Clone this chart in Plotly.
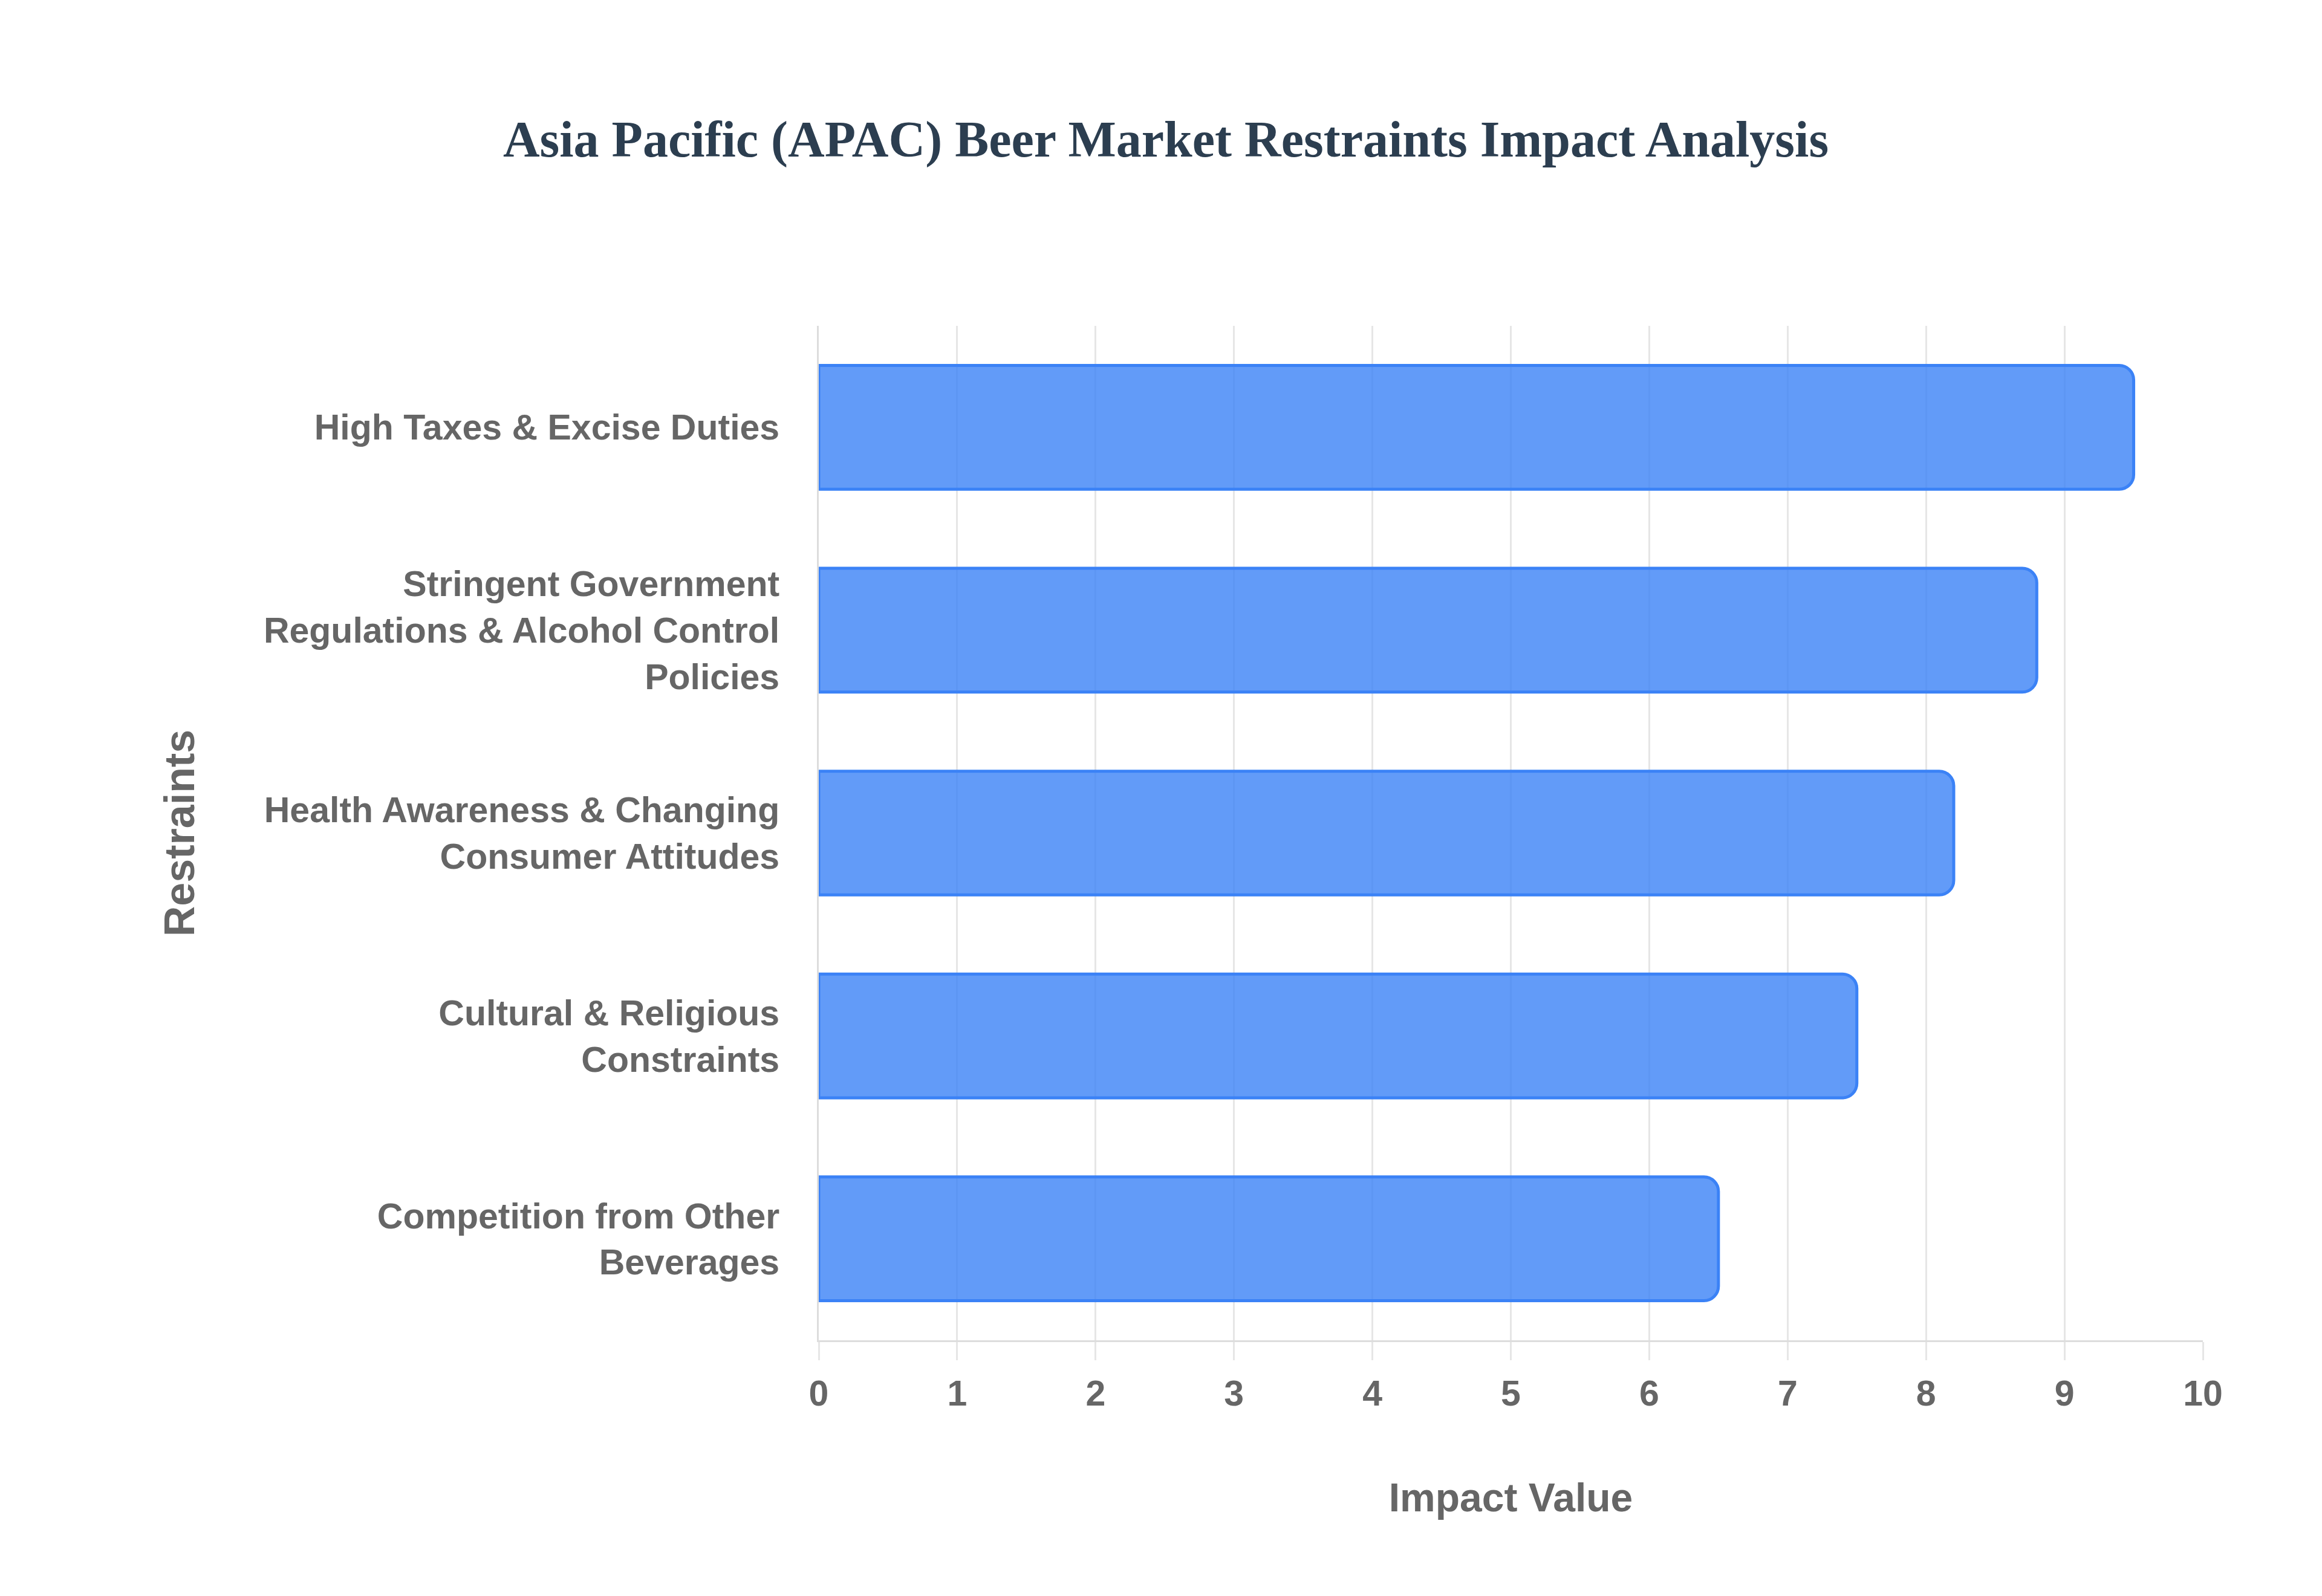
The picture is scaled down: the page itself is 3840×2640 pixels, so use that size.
import plotly.graph_objects as go

# restraint categories, listed top to bottom as in the chart
restraints = [
    "High Taxes & Excise Duties",
    "Stringent Government<br>Regulations & Alcohol Control<br>Policies",
    "Health Awareness & Changing<br>Consumer Attitudes",
    "Cultural & Religious<br>Constraints",
    "Competition from Other<br>Beverages",
]
impact_values = [9.5, 8.8, 8.2, 7.5, 6.5]
x_ticks = [0, 1, 2, 3, 4, 5, 6, 7, 8, 9, 10]

grid_col = "#e6e6e6"
label_col = "#666666"

fig = go.Figure()
fig.add_trace(go.Bar(
    x=impact_values,
    y=restraints,
    orientation="h",
    marker=dict(
        color="rgba(59,130,246,0.8)",
        line=dict(color="rgb(59,130,246)", width=5),
        cornerradius=24,
    ),
    hoverinfo="x+y",
))

fig.update_layout(
    width=3840,
    height=2640,
    paper_bgcolor="white",
    plot_bgcolor="white",
    margin=dict(l=1346, r=205, t=531, b=431),
    bargap=0.39,
    showlegend=False,
    title=dict(
        text="Asia Pacific (APAC) Beer Market Restraints Impact Analysis",
        x=0.5,
        xanchor="center",
        y=1 - 222 / 2640,
        yanchor="middle",
        font=dict(family="Liberation Serif", size=84, color="#2c3e50", weight="bold"),
    ),
)

fig.update_xaxes(
    range=[0, 10],
    tickvals=x_ticks,
    showgrid=True,
    gridcolor=grid_col,
    gridwidth=2.5,
    zeroline=False,
    showline=True,
    linecolor="#dddddd",
    linewidth=3,
    ticks="outside",
    ticklen=30,
    tickwidth=2.5,
    tickcolor=grid_col,
    ticklabelstandoff=4,
    tickfont=dict(family="Liberation Sans", size=59, color=label_col, weight="bold"),
    title=dict(
        text="Impact Value",
        standoff=118,
        font=dict(family="Liberation Sans", size=66, color=label_col, weight="bold"),
    ),
)

fig.update_yaxes(
    autorange="reversed",
    showgrid=False,
    zeroline=False,
    showline=True,
    linecolor="#dddddd",
    linewidth=3,
    ticks="",
    ticklabelstandoff=50,
    tickfont=dict(family="Liberation Sans", size=59, color=label_col, weight="bold"),
    title=dict(
        text="Restraints",
        standoff=92,
        font=dict(family="Liberation Sans", size=70, color=label_col, weight="bold"),
    ),
)

fig.write_html("out.html")
